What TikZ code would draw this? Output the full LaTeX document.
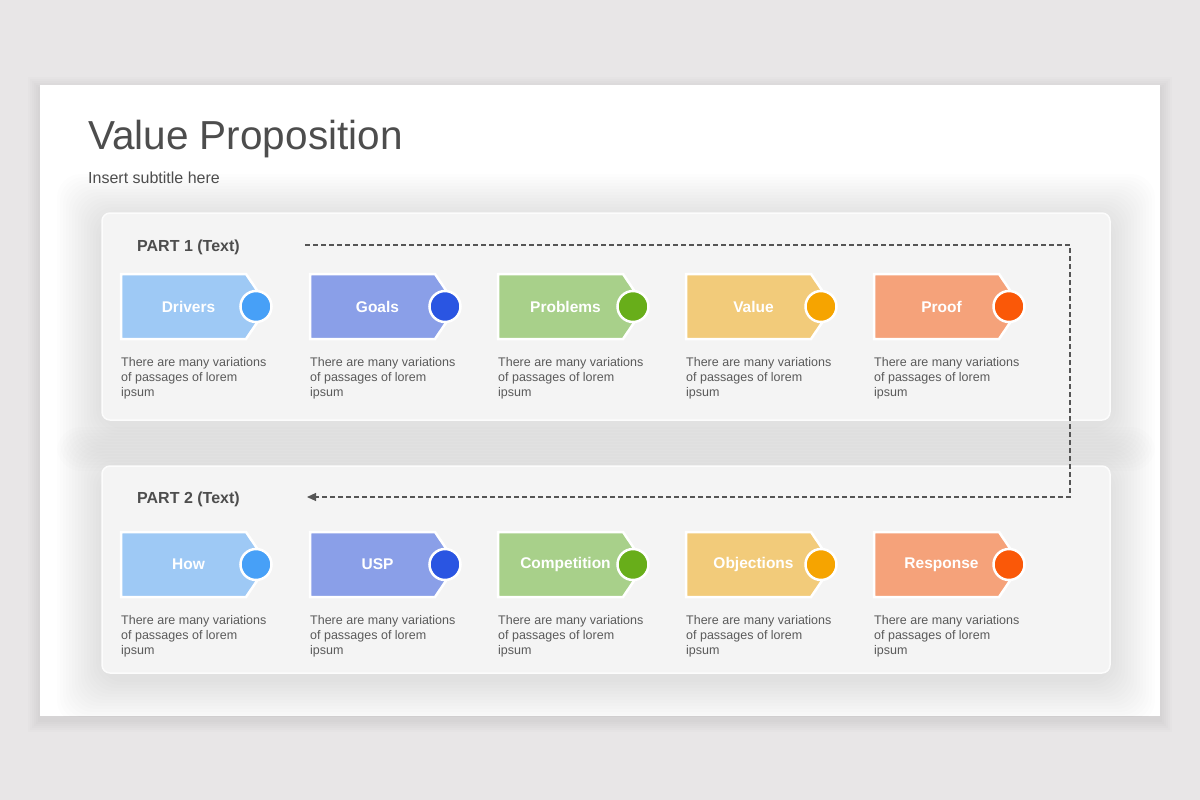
\documentclass[tikz,border=0pt]{standalone}
\usepackage{fontspec}
\setmainfont{Liberation Sans}
\usetikzlibrary{arrows.meta}
\definecolor{bgc}{HTML}{E8E6E7}
\definecolor{panelc}{HTML}{F4F4F4}
\definecolor{txtc}{HTML}{4D4D4D}
\definecolor{descc}{HTML}{5A5A5A}
\definecolor{linec}{HTML}{555555}
\definecolor{f1}{HTML}{9EC9F5}\definecolor{c1}{HTML}{47A0F7}
\definecolor{f2}{HTML}{8A9FE8}\definecolor{c2}{HTML}{2A55E2}
\definecolor{f3}{HTML}{A8D08A}\definecolor{c3}{HTML}{68AE1A}
\definecolor{f4}{HTML}{F2CB7A}\definecolor{c4}{HTML}{F6A400}
\definecolor{f5}{HTML}{F5A27A}\definecolor{c5}{HTML}{FA5808}
\tikzset{
  panel/.style={fill=panelc, draw=white!75!panelc, line width=1.5pt, rounded corners=8pt},
  glow/.style={fill=black, fill opacity=0.007, rounded corners=24pt},
  tagshape/.style={draw=white, line width=2.5pt, line join=miter},
  tagtext/.style={text=white, font=\bfseries\fontsize{15.5}{18}\selectfont, inner sep=0pt},
  dotc/.style={circle, draw=white, line width=2.5pt, minimum size=31pt, inner sep=0pt},
  desc/.style={text=descc, font=\fontsize{12.5}{15}\selectfont, align=left, inner sep=0pt, anchor=north west},
  parttxt/.style={text=txtc, font=\bfseries\fontsize{16}{19}\selectfont, anchor=base west, inner sep=0pt},
  flow/.style={draw=linec, line width=1.1pt, dash pattern=on 5pt off 3pt, -{Triangle[length=9pt,width=8pt]}}
}
\newcommand\mytag[6]{%
  \draw[tagshape, fill=#5] (#2,#3) -- ++(125,0) -- ++(22,32.5) -- ++(-22,32.5) -- ++(-125,0) -- cycle;
  \node[tagtext] (#1) at (#2+67.5,#3+32.5) {#4};
  \node[dotc, fill=#6] (#1c) at (#2+135,#3+32.5) {};
  \node[desc] (#1d) at (#2,#3+83) {There are many variations\\of passages of lorem\\ipsum};
}
\newcommand\softglow[4]{%
  \foreach \g in {3,6,...,45} {\fill[glow] (#1-\g,#2-\g+6) rectangle (#3+\g,#4+\g+6);}
}
\begin{document}
\begin{tikzpicture}[x=1pt,y=-1pt]
\useasboundingbox (0,0) rectangle (1200,800);
\fill[bgc] (0,0) rectangle (1200,800);
\foreach \g in {2,4,...,12} {\fill[black, fill opacity=0.01] (40-\g,85-\g+4) rectangle (1160+\g,716+\g+4);}
\fill[white] (40,85) rectangle (1160,716);
\begin{scope}
\clip (40,85) rectangle (1160,716);
\softglow{102}{213}{1110}{420}
\softglow{102}{466}{1110}{673}
\end{scope}
\node[text=txtc, font=\fontsize{40.5}{46}\selectfont, anchor=base west, inner sep=0pt] (title) at (88,149) {Value Proposition};
\node[text=txtc, font=\fontsize{16}{19}\selectfont, anchor=base west, inner sep=0pt] (sub) at (88,183) {Insert subtitle here};
\draw[panel] (102,213) rectangle (1110,420);
\draw[panel] (102,466) rectangle (1110,673);
\node[parttxt] (p1) at (137,251) {PART 1 (Text)};
\node[parttxt] (p2) at (137,503) {PART 2 (Text)};
\mytag{a}{121}{274}{Drivers}{f1}{c1}
\mytag{b}{310}{274}{Goals}{f2}{c2}
\mytag{c}{498}{274}{Problems}{f3}{c3}
\mytag{d}{686}{274}{Value}{f4}{c4}
\mytag{e}{874}{274}{Proof}{f5}{c5}
\mytag{f}{121}{532}{How}{f1}{c1}
\mytag{g}{310}{532}{USP}{f2}{c2}
\mytag{h}{498}{532}{Competition}{f3}{c3}
\mytag{i}{686}{532}{Objections}{f4}{c4}
\mytag{j}{874}{532}{Response}{f5}{c5}
\coordinate (ds) at (305,245);
\coordinate (dc) at (1070,245);
\coordinate (de) at (307,497);
\draw[flow] (ds) -- (dc) |- (de);
\end{tikzpicture}
\end{document}
